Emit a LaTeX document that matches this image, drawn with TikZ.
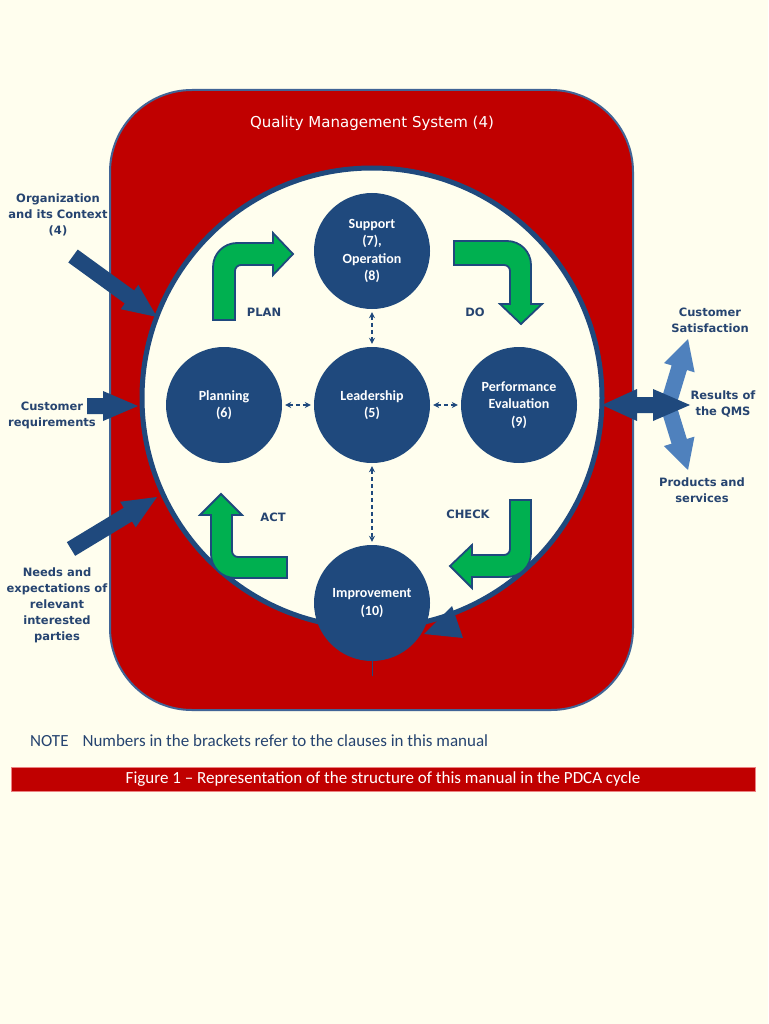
\documentclass[tikz,border=0pt]{standalone}
\usepackage{fontspec}
\setmainfont{DejaVu Sans}
\newfontfamily\calfont{Carlito}
\usetikzlibrary{arrows.meta}
\definecolor{cream}{RGB}{255,254,238}
\definecolor{qred}{RGB}{192,0,0}
\definecolor{qblue}{RGB}{31,73,125}
\definecolor{lblue}{RGB}{79,129,189}
\definecolor{qgreen}{RGB}{0,176,80}
\definecolor{txtblue}{RGB}{38,68,112}
\definecolor{edgeblue}{RGB}{65,100,150}
\definecolor{capedge}{RGB}{235,130,130}
% block arrow: #1 style, (#2,#3) tail, (#4,#5) tip, #6 shaft half width, #7 head half width, #8 head length
\newcommand\blockarrow[8]{%
  \pgfmathsetmacro\myAng{atan2((#3)-(#5),(#4)-(#2))}%
  \pgfmathsetmacro\myLen{veclen((#4)-(#2),(#5)-(#3))}%
  \path[#1,shift={(#4,#5)},rotate=\myAng] (0,0) -- (-#8,#7) -- (-#8,#6) -- (-\myLen,#6)
     -- (-\myLen,-#6) -- (-#8,-#6) -- (-#8,-#7) -- cycle;}
\tikzset{
  bub/.style={circle, fill=qblue, minimum size=116, inner sep=0pt, text=white, align=center,
     font=\calfont\bfseries\fontsize{14}{17.5}\selectfont},
  lab/.style={text=txtblue, align=center, inner sep=0pt, font=\bfseries\fontsize{11.5}{16}\selectfont},
  greenarrow/.style={fill=qgreen, draw=qblue, line width=1.8, line join=miter},
  dasharr/.style={qblue, line width=2, dash pattern=on 4.5pt off 2.5pt,
     {Stealth[length=6pt,width=6pt]}-{Stealth[length=6pt,width=6pt]}, shorten <=3pt, shorten >=3pt},
}
\begin{document}
\begin{tikzpicture}[x=1pt,y=-1pt]
\fill[cream] (0,0) rectangle (768,1024);
\useasboundingbox (0,0) rectangle (768,1024);

% red QMS box
\draw[fill=qred, draw=edgeblue, line width=2, rounded corners=82] (110,90) rectangle (633,710);
\node[text=white, font=\fontsize{15}{18}\selectfont] (title) at (372,123) {Quality Management System (4)};

% big circle
\node[circle, draw=qblue, line width=5, fill=cream, minimum size=460, inner sep=0pt] (qms) at (372,398) {};

% input arrows
\blockarrow{fill=qblue}{73}{256}{157}{317}{8}{15}{34}
\blockarrow{fill=qblue}{87}{406}{138}{406}{8}{15}{35}
\blockarrow{fill=qblue}{71}{549}{157}{497}{8}{15}{34}

% output arrows
\blockarrow{fill=lblue}{668}{405}{688}{339}{8}{16}{30}
\blockarrow{fill=lblue}{668}{405}{688}{470}{8}{16}{30}
\fill[qblue] (602,405) -- (637,389) -- (637,397) -- (653,397) -- (653,389) -- (690,405)
   -- (653,421) -- (653,413) -- (637,413) -- (637,421) -- cycle;

% arrowhead at improvement
\fill[qblue] (424,634) -- (452,606) -- (463,638) -- cycle;

% green PDCA arrows
\draw[greenarrow] (213,320) -- (213,267) arc[start angle=180,end angle=270,radius=24] -- (273,243)
   -- (273,233) -- (293,254) -- (273,275) -- (273,265) -- (241,265)
   arc[start angle=270,end angle=180,radius=6] -- (235,320) -- cycle;
\draw[greenarrow] (454,241) -- (507,241) arc[start angle=270,end angle=360,radius=24] -- (531,304)
   -- (542,304) -- (521,324) -- (500,304) -- (510,304) -- (510,271)
   arc[start angle=0,end angle=-90,radius=6] -- (454,265) -- cycle;
\draw[greenarrow] (221,494) -- (242,515) -- (232,515) -- (232,551)
   arc[start angle=180,end angle=90,radius=6] -- (287,557) -- (287,578) -- (235,578)
   arc[start angle=90,end angle=180,radius=24] -- (211,515) -- (200,515) -- cycle;
\draw[greenarrow] (510,500) -- (531,500) -- (531,553) arc[start angle=0,end angle=90,radius=24]
   -- (472,577) -- (472,588) -- (450,566) -- (472,545) -- (472,555) -- (504,555)
   arc[start angle=90,end angle=0,radius=6] -- cycle;

% circles
\node[bub] (support) at (372,251) {Support\\(7),\\Operation\\(8)};
\node[bub] (planning) at (224,405) {Planning\\(6)};
\node[bub] (leader) at (372,405) {Leadership\\(5)};
\node[bub] (perf) at (519,405) {Performance\\Evaluation\\(9)};
\node[bub] (improve) at (372,603) {Improvement\\(10)};
\draw[qblue, line width=0.8] (improve.south) -- ++(0,15);

% dashed links
\draw[dasharr] (support) -- (leader);
\draw[dasharr] (planning) -- (leader);
\draw[dasharr] (leader) -- (perf);
\draw[dasharr] (leader) -- (improve);

% PDCA labels
\node[lab] (plan) at (264,312) {PLAN};
\node[lab] (do) at (475,312) {DO};
\node[lab] (act) at (273,517) {ACT};
\node[lab] (check) at (468,514) {CHECK};

% outer labels
\node[lab] (org) at (58,215) {Organization\\and its Context\\(4)};
\node[lab] (custreq) at (52,415) {Customer\\requirements};
\node[lab] (needs) at (57,605) {Needs and\\expectations of\\relevant\\interested\\parties};
\node[lab] (csat) at (710,320) {Customer\\Satisfaction};
\node[lab] (res) at (723,404) {Results of\\the QMS};
\node[lab] (prod) at (702,490) {Products and\\services};

% note and caption
\node[anchor=west, text=txtblue, inner sep=0pt, font=\calfont\fontsize{17}{20}\selectfont] (note) at (30,741)
   {NOTE\hspace{14pt}Numbers in the brackets refer to the clauses in this manual};
\node[fill=qred, draw=capedge, line width=0.6, minimum width=744, minimum height=24, inner sep=0pt,
   text=white, font=\calfont\fontsize{17}{20}\selectfont] (cap) at (383,779)
   {Figure 1 – Representation of the structure of this manual in the PDCA cycle};
\end{tikzpicture}
\end{document}
